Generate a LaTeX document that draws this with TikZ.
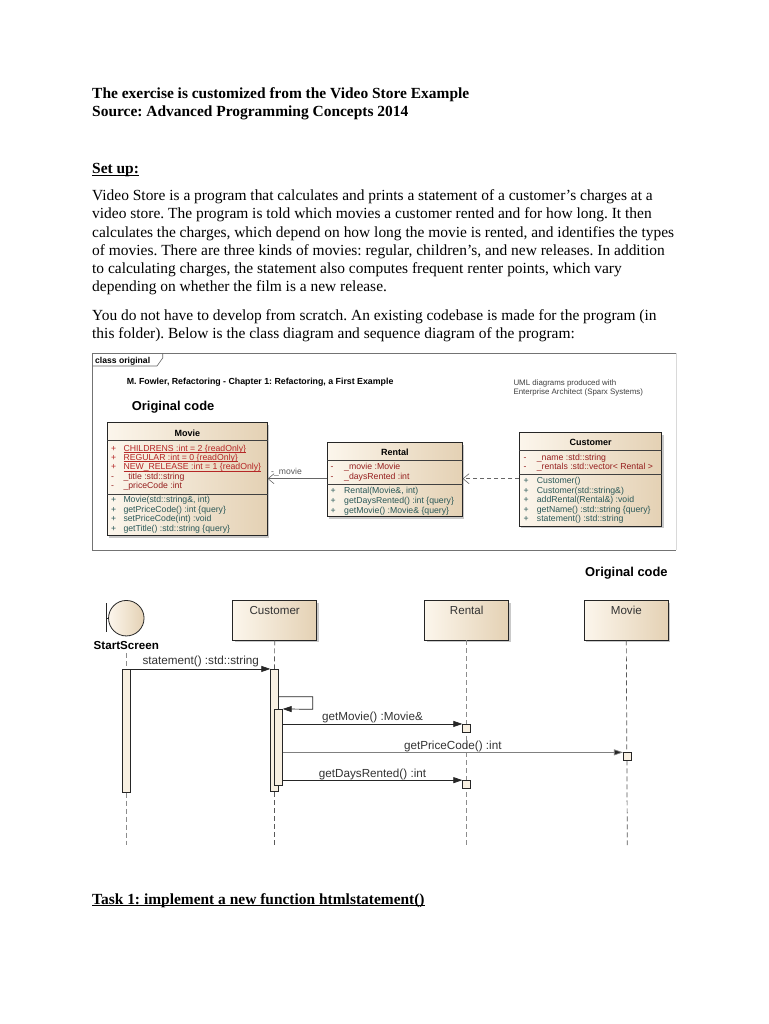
\documentclass[tikz,border=0pt]{standalone}
\usepackage{fontspec}
\setmainfont{Liberation Serif}
\newfontfamily\umlf{Liberation Sans}
\usetikzlibrary{arrows.meta,shadows,calc}
\definecolor{boxL}{HTML}{FCF6EC}
\definecolor{boxR}{HTML}{E4D1B4}
\definecolor{attrS}{HTML}{B52626}
\definecolor{attrD}{HTML}{951E1E}
\definecolor{opc}{HTML}{2A5858}
\definecolor{actfill}{HTML}{F8F0E2}
\newcommand{\uln}[1]{\setbox0\hbox{#1}\rlap{\rule[-1.3pt]{\wd0}{0.45pt}}\box0}
\newcommand{\ulb}[1]{\setbox0\hbox{#1}\rlap{\rule[-2.2pt]{\wd0}{0.9pt}}\box0}
\frenchspacing
\begin{document}
\begin{tikzpicture}[x=1pt,y=-1pt,
  body/.style={anchor=base west,inner sep=0,font=\fontsize{15.45}{18.2}\selectfont},
  bodyb/.style={anchor=base west,inner sep=0,font=\bfseries\fontsize{15.45}{18.2}\selectfont},
  umlbox/.style={draw=black!85,line width=0.6pt,inner sep=0,left color=boxL,right color=boxR,
     drop shadow={shadow xshift=2pt,shadow yshift=-2pt,fill=black!35,opacity=0.6}},
  umlsep/.style={draw=black!75,line width=0.5pt},
  rowtxt/.style={anchor=base west,inner sep=0,font=\umlf\fontsize{8.7}{9}\selectfont},
  hdrtxt/.style={anchor=base,inner sep=0,font=\umlf\bfseries\fontsize{9}{10}\selectfont},
  assoc/.style={draw=black!60,line width=0.6pt,-{Straight Barb[length=6pt,width=10pt]}},
  dep/.style={draw=black!60,line width=0.6pt,dash pattern=on 4pt off 3pt,-{Straight Barb[length=6pt,width=10pt]}},
  seqhead/.style={draw=black!85,line width=0.7pt,inner sep=0,minimum width=84pt,minimum height=39.3pt,
     left color=boxL,right color=boxR,
     drop shadow={shadow xshift=2pt,shadow yshift=-2pt,fill=black!35,opacity=0.6}},
  headtxt/.style={anchor=base,inner sep=0,text=black!80,font=\umlf\fontsize{11.6}{12}\selectfont},
  act/.style={draw=black!85,line width=0.7pt,fill=actfill,inner sep=0},
  lifeline/.style={draw=black!65,line width=0.7pt,dash pattern=on 5pt off 3pt},
  msg/.style={draw=black!85,line width=0.7pt,-{Triangle[length=9pt,width=6pt]}},
  msggray/.style={draw=black!50,line width=0.7pt,-{Triangle[length=9pt,width=6pt,fill=black!85]}},
  msglab/.style={anchor=base,inner sep=0,text=black!80,font=\umlf\fontsize{11.7}{12}\selectfont}]
\useasboundingbox (0,0) rectangle (768,1024);
\fill[white] (0,0) rectangle (768,1024);

% ---------- text ----------
\node[bodyb] (t1) at (92,98.5) {The exercise is customized from the Video Store Example};
\node[bodyb] (t2) at (92,116.7) {Source: Advanced Programming Concepts 2014};
\node[bodyb] (setup) at (92,174) {\ulb{Set up:}};
\node[body] (p1a) at (92,200.7) {Video Store is a program that calculates and prints a statement of a customer’s charges at a};
\node[body] (p1b) at (92,218.9) {video store. The program is told which movies a customer rented and for how long. It then};
\node[body] (p1c) at (92,237.1) {calculates the charges, which depend on how long the movie is rented, and identifies the types};
\node[body] (p1d) at (92,255.3) {of movies. There are three kinds of movies: regular, children’s, and new releases. In addition};
\node[body] (p1e) at (92,273.5) {to calculating charges, the statement also computes frequent renter points, which vary};
\node[body] (p1f) at (92,291.7) {depending on whether the film is a new release.};
\node[body] (p2a) at (92,320) {You do not have to develop from scratch. An existing codebase is made for the program (in};
\node[body] (p2b) at (92,338.2) {this folder). Below is the class diagram and sequence diagram of the program:};
\node[bodyb] (task) at (92,904) {\ulb{Task 1: implement a new function htmlstatement()}};

% ---------- class diagram frame ----------
\draw[black!55,line width=0.6pt] (676,353.3) -- (92.7,353.3) -- (92.7,550) -- (676,550);
\draw[black!15,line width=0.6pt] (676,353.3) -- (676,550);
\draw[black!60,line width=0.6pt] (92.7,366) -- (157,366) -- (162.7,358) -- (162.7,353.3);
\node[anchor=base west,inner sep=0,font=\umlf\bfseries\fontsize{8.6}{9}\selectfont] (ctab) at (95,363) {class original};
\node[anchor=base west,inner sep=0,font=\umlf\bfseries\fontsize{8.8}{9}\selectfont] (ctitle) at (126.7,384.3) {M. Fowler, Refactoring - Chapter 1: Refactoring, a First Example};
\node[anchor=base west,inner sep=0,font=\umlf\bfseries\fontsize{12.9}{13}\selectfont] (corig) at (131.7,410.6) {Original code};
\node[anchor=base west,inner sep=0,text=black!75,font=\umlf\fontsize{7.9}{9}\selectfont] (cnote1) at (513.3,385.2) {UML diagrams produced with};
\node[anchor=base west,inner sep=0,text=black!75,font=\umlf\fontsize{7.9}{9}\selectfont] (cnote2) at (513.3,394.9) {Enterprise Architect (Sparx Systems)};

% Movie
\node[umlbox,minimum width=160pt,minimum height=113pt] (movie) at (187.3,479.2) {};
\draw[umlsep] (movie.west |- 0,440) -- (movie.east |- 0,440);
\draw[umlsep] (movie.west |- 0,494) -- (movie.east |- 0,494);
\node[hdrtxt] (movieh) at (187.3,436.3) {Movie};
\foreach \y/\s/\t/\c in {451.1/+/{\uln{CHILDRENS\ :int = 2 \{readOnly\}}}/attrS,
                         460.5/+/{\uln{REGULAR\ :int = 0 \{readOnly\}}}/attrS,
                         469.8/+/{\uln{NEW\_RELEASE\ :int = 1 \{readOnly\}}}/attrS,
                         479.1/-/{\_title\ :std::string}/attrD,
                         488.5/-/{\_priceCode\ :int}/attrD,
                         502.8/+/{Movie(std::string\&, int)}/opc,
                         512.8/+/{getPriceCode()\ :int \{query\}}/opc,
                         521.8/+/{setPriceCode(int)\ :void}/opc,
                         531.5/+/{getTitle()\ :std::string \{query\}}/opc}{
  \node[rowtxt,text=\c] at (110.8,\y) {\s};
  \node[rowtxt,text=\c] at (123.3,\y) {\t};
}

% Rental
\node[umlbox,minimum width=135pt,minimum height=74pt] (rental) at (394.8,479.7) {};
\draw[umlsep] (rental.west |- 0,460) -- (rental.east |- 0,460);
\draw[umlsep] (rental.west |- 0,484) -- (rental.east |- 0,484);
\node[hdrtxt] (rentalh) at (394.8,455.3) {Rental};
\foreach \y/\s/\t/\c in {469.8/-/{\_movie\ :Movie}/attrD,
                         479.5/-/{\_daysRented\ :int}/attrD,
                         493.5/+/{Rental(Movie\&, int)}/opc,
                         503.5/+/{getDaysRented()\ :int \{query\}}/opc,
                         513.1/+/{getMovie()\ :Movie\& \{query\}}/opc}{
  \node[rowtxt,text=\c] at (330.5,\y) {\s};
  \node[rowtxt,text=\c] at (344,\y) {\t};
}

% Customer
\node[umlbox,minimum width=142.4pt,minimum height=93.3pt] (customer) at (590.5,479.35) {};
\draw[umlsep] (customer.west |- 0,450) -- (customer.east |- 0,450);
\draw[umlsep] (customer.west |- 0,474) -- (customer.east |- 0,474);
\node[hdrtxt] (customerh) at (590.5,445.5) {Customer};
\foreach \y/\s/\t/\c in {460.1/-/{\_name\ :std::string}/attrD,
                         469.8/-/{\_rentals\ :std::vector< Rental >}/attrD,
                         483.8/+/{Customer()}/opc,
                         493.1/+/{Customer(std::string\&)}/opc,
                         502.8/+/{addRental(Rental\&)\ :void}/opc,
                         512.5/+/{getName()\ :std::string \{query\}}/opc,
                         521.8/+/{statement()\ :std::string}/opc}{
  \node[rowtxt,text=\c] at (523.5,\y) {\s};
  \node[rowtxt,text=\c] at (536.7,\y) {\t};
}

% associations
\draw[assoc] (rental.west |- 0,478.7) -- (movie.east |- 0,478.7);
\node[anchor=base west,inner sep=0,text=black!65,font=\umlf\fontsize{8.6}{9}\selectfont] (movlab) at (271,474) {-\_movie};
\draw[dep] (customer.west |- 0,478.7) -- (rental.east |- 0,478.7);

% ---------- sequence diagram ----------
\node[anchor=base west,inner sep=0,font=\umlf\bfseries\fontsize{12.9}{13}\selectfont] (sorig) at (585,576.6) {Original code};

% StartScreen boundary
\draw[black!85,line width=0.8pt] (106.3,603) -- (106.3,632);
\draw[black!85,line width=0.8pt] (106.3,618.2) -- (108.6,618.2);
\node[circle,draw=black!85,line width=0.8pt,minimum size=35.5pt,inner sep=0,left color=boxL,right color=boxR] (start) at (126.3,618.2) {};
\node[anchor=base,inner sep=0,font=\umlf\bfseries\fontsize{11.6}{12}\selectfont] (startlab) at (126.3,649.5) {StartScreen};

% heads
\node[seqhead] (hcust) at (274.7,620.35) {};
\node[headtxt] at (274.7,614) {Customer};
\node[seqhead] (hrent) at (466.7,620.35) {};
\node[headtxt] at (466.7,614) {Rental};
\node[seqhead] (hmov) at (626.3,620.35) {};
\node[headtxt] at (626.3,614) {Movie};

% coordinates for lifeline ends
\coordinate (sTop) at (126.5,653);
\coordinate (sEnd) at (126.5,845);
\coordinate (cEnd) at (274.5,845);
\coordinate (rEnd) at (466.7,845);
\coordinate (mEnd) at (627.3,845);

% activations
\node[act,minimum width=8.4pt,minimum height=123pt] (sAct) at (126.5,730.8) {};
\node[act,minimum width=7.6pt,minimum height=122.4pt] (cAct) at (274.5,730.5) {};

% lifelines
\draw[lifeline,draw=black!45] (sTop) -- (sAct.north);
\draw[lifeline,draw=black!45] (sAct.south) -- (sEnd);
\draw[lifeline] (hcust.south) -- (cAct.north);
\draw[lifeline] (cAct.south) -- (cEnd);
\draw[lifeline,draw=black!45] (hrent.south) -- (rEnd);
\draw[lifeline] (hmov.south) -- (mEnd);

\node[act,minimum width=7.6pt,minimum height=76.4pt] (cNest) at (278.5,747.5) {};
\node[act,minimum width=8pt,minimum height=8pt] (rA1) at (466.7,728.3) {};
\node[act,minimum width=8pt,minimum height=8pt] (rA2) at (466.7,784.5) {};
\node[act,minimum width=8pt,minimum height=8pt] (mA) at (627.3,756.7) {};

% messages
\draw[msg] (sAct.north east) -- (cAct.north west)
  node[msglab,midway,yshift=4pt] {statement() :std::string};
\draw[msg] (cAct.east |- 0,696.7) -- (312.7,696.7) -- (312.7,709.3) -- (cNest.north east);
\draw[msg] (cNest.east |- rA1.north) -- (rA1.north west)
  node[msglab,midway,yshift=3pt] {getMovie() :Movie\&};
\draw[msggray] (cNest.east |- mA.north) -- (mA.north west)
  node[msglab,midway,yshift=3pt] {getPriceCode() :int};
\draw[msg] (cNest.east |- rA2.north) -- (rA2.north west)
  node[msglab,midway,yshift=3pt] {getDaysRented() :int};
\end{tikzpicture}
\end{document}
